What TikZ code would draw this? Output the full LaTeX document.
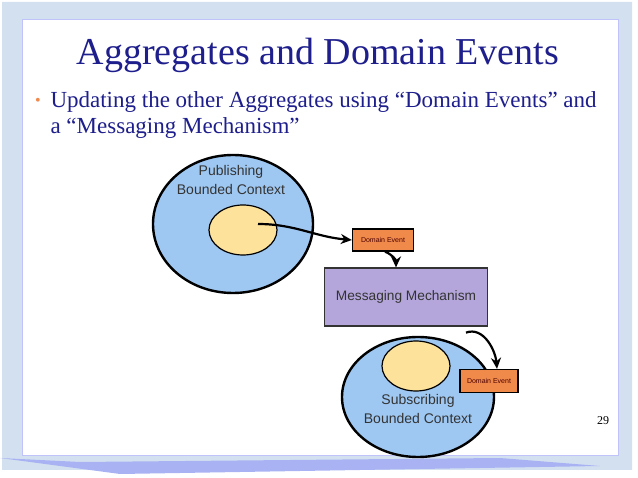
\documentclass[tikz,border=0pt]{standalone}
\usepackage{fontspec}
\setmainfont{Liberation Serif}
\newfontfamily\hand{Liberation Sans}
\usetikzlibrary{arrows.meta}
\definecolor{titleblue}{HTML}{1E1E8C}
\definecolor{frameblue}{HTML}{D3E0F0}
\definecolor{ctxblue}{HTML}{9EC8F2}
\definecolor{coreyellow}{HTML}{FCE29A}
\definecolor{evorange}{HTML}{F08A4B}
\definecolor{msgpurple}{HTML}{B4A6DA}
\tikzset{
 ctx/.style={draw=black,line width=2.4pt,fill=ctxblue},
 core/.style={draw=black,line width=1.2pt,fill=coreyellow},
 evbox/.style={draw=black,line width=1.4pt,fill=evorange,inner sep=0pt,text=black!70!red,font=\hand\fontsize{7}{8}\selectfont},
 msgbox/.style={draw=black!80,line width=1.2pt,fill=msgpurple,inner sep=0pt,font=\hand\fontsize{13.7}{16}\selectfont,text=black!80},
 lbl/.style={font=\hand\fontsize{14}{19}\selectfont,text=black!80,align=center},
 flow/.style={-{Stealth[length=11pt,width=10pt]},line width=2.2pt}
}
\begin{document}
\begin{tikzpicture}[x=1pt,y=-1pt]
\useasboundingbox (0,0) rectangle (638,478);
\fill[white] (0,0) rectangle (638,478);
% frame
\fill[frameblue, even odd rule] (2,2) rectangle (632,470) (22,20) rectangle (618,456);
\draw[frameblue!60!blue!50, line width=1pt] (22,20) rectangle (618,456);
\fill[blue!20!frameblue] (0,458) -- (80,462) -- (500,458) -- (600,466) -- (120,474) -- cycle;
% title
\node[text=titleblue, font=\fontsize{38}{40}\selectfont] (title) at (318,55) {Aggregates and Domain Events};
\node[text=evorange, font=\fontsize{16}{16}\selectfont] (bullet) at (38,102) {\textbullet};
\node[text=titleblue, font=\fontsize{23}{26}\selectfont, align=left, anchor=north west] (body) at (47,88)
 {Updating the other Aggregates using “Domain Events” and\\a “Messaging Mechanism”};
% diagram
\draw[ctx] (233,224) ellipse [x radius=80, y radius=69];
\node[lbl] (pub) at (231,180) {Publishing\\Bounded Context};
\draw[core] (243,230) ellipse [x radius=34, y radius=25];
\coordinate (pubcore) at (258,224);
\node[evbox, minimum width=61pt, minimum height=22pt] (ev1) at (383,240) {Domain Event};
\node[msgbox, minimum width=163pt, minimum height=58pt] (msg) at (406,297) {Messaging Mechanism};
\draw[ctx] (418,397) ellipse [x radius=76, y radius=60];
\draw[core] (416,366) ellipse [x radius=34, y radius=25];
\node[lbl] (sub) at (418,409) {Subscribing\\Bounded Context};
\node[evbox, minimum width=58pt, minimum height=23pt] (ev2) at (489,381) {Domain Event};
\draw[flow] (pubcore) to[out=0,in=175] (ev1.west);
\draw[flow] ([xshift=2pt]ev1.south) to[out=-20,in=90] ([xshift=-10pt]msg.north);
\draw[flow] ([xshift=60pt,yshift=-6pt]msg.south) to[out=20,in=95] ([xshift=8pt]ev2.north);
\node[font=\fontsize{12}{14}\selectfont] (page) at (603,421) {29};
\end{tikzpicture}
\end{document}
